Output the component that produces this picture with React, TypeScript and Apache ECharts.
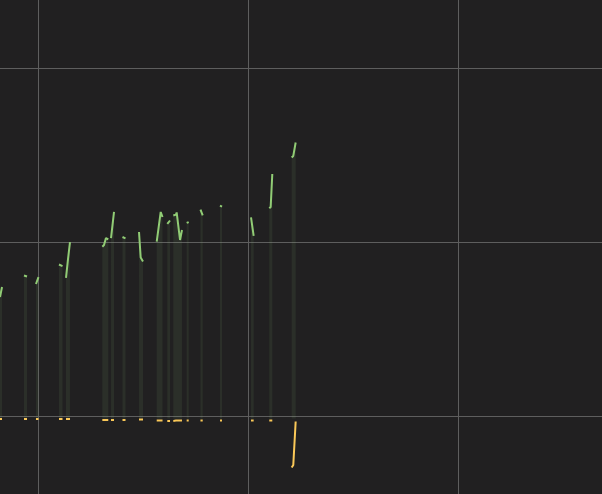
import React, { useEffect, useRef } from "react";
import * as echarts from "echarts";

// x positions (time units), null = gap between runs
const times: (number | null)[] = [
  24.57, 24.86, null,
  28.0, 28.43, null,
  29.71, 30.07, null,
  33.0, 33.5, null,
  34.0, 34.29, 34.57, null,
  39.19, 39.43, 39.71, 40.04, null,
  40.43, 40.86, null,
  42.07, 42.5, null,
  44.43, 44.67, 45.0, null,
  46.96, 47.53, 47.79, null,
  48.47, 48.86, null,
  49.33, 49.71, 49.81, 50.29, 50.57, null,
  51.24, 51.53, null,
  53.21, 53.53, null,
  56.0, 56.29, null,
  60.43, 60.81, null,
  63.04, 63.24, 63.47, null,
  66.24, 66.47, 66.81,
];

const greenValues: (number | null)[] = [
  69.8, 75.6, null,
  82.2, 81.6, null,
  77.3, 81.3, null,
  88.5, 87.6, null,
  80.8, 91.7, 101.4, null,
  98.7, 99.7, 103.7, 102.9, null,
  103.7, 118.7, null,
  104.3, 103.5, null,
  107.2, 92.5, 90.2, null,
  101.6, 118.7, 115.8, null,
  111.8, 113.8, null,
  116.7, 117.2, 118.4, 102.6, 108.3, null,
  112.4, 112.9, null,
  120.1, 116.7, null,
  122.4, 121.8, null,
  115.6, 104.9, null,
  120.8, 121.6, 140.5, null,
  150.0, 150.9, 158.6,
];

const yellowValues: (number | null)[] = [
  -0.3, -0.3, null,
  -0.3, -0.3, null,
  -0.3, -0.3, null,
  -0.3, -0.3, null,
  -0.3, -0.3, -0.3, null,
  -0.9, -0.9, -0.9, -0.9, null,
  -0.9, -0.9, null,
  -0.9, -0.9, null,
  -0.6, -0.6, -0.6, null,
  -1.2, -1.2, -1.2, null,
  -1.4, -1.4, null,
  -1.4, -1.2, -1.2, -1.2, -1.2, null,
  -1.2, -1.2, null,
  -1.2, -1.2, null,
  -1.2, -1.2, null,
  -1.2, -1.2, null,
  -1.2, -1.2, -1.2, null,
  -28.2, -26.7, -1.7,
];

const xTickInterval = 30;

function pairs(vals: (number | null)[]) {
  return times.map((t, i) =>
    t == null || vals[i] == null ? [null, null] : [t, vals[i]]
  );
}

export default function App() {
  const ref = useRef<HTMLDivElement>(null);
  useEffect(() => {
    if (!ref.current) return;
    const chart = echarts.init(ref.current, null, { renderer: "svg" });
    chart.setOption({
      animation: false,
      backgroundColor: "#212021",
      grid: {
        left: -172,
        right: -66,
        top: -106,
        bottom: -96,
        containLabel: false,
        outerBoundsMode: "none",
      },
      xAxis: {
        type: "value",
        min: 0,
        max: 120,
        interval: xTickInterval,
        axisLine: { show: false },
        axisTick: { show: false },
        axisLabel: { show: false },
        splitLine: { show: true, lineStyle: { color: "#5e5e5e", width: 1 } },
      },
      yAxis: [
        {
          type: "value",
          min: 0,
          max: 400,
          interval: 100,
          axisLine: { show: false },
          axisTick: { show: false },
          axisLabel: { show: false },
          splitLine: { show: true, lineStyle: { color: "#5e5e5e", width: 1 } },
        },
        {
          type: "value",
          min: -98.56,
          max: 301.44,
          show: false,
          splitLine: { show: false },
        },
      ],
      series: [
        {
          type: "line",
          yAxisIndex: 1,
          data: pairs(greenValues),
          showSymbol: false,
          connectNulls: false,
          lineStyle: { color: "#91cc75", width: 2 },
          itemStyle: { color: "#91cc75" },
          areaStyle: { color: "#91cc75", opacity: 0.09 },
        },
        {
          type: "line",
          yAxisIndex: 1,
          data: pairs(yellowValues),
          showSymbol: false,
          connectNulls: false,
          lineStyle: { color: "#fac858", width: 2 },
          itemStyle: { color: "#fac858" },
        },
      ],
    });
    return () => chart.dispose();
  }, []);
  return (
    <div
      ref={ref}
      style={{ position: "absolute", left: 0, top: 0, width: 602, height: 494 }}
    />
  );
}
